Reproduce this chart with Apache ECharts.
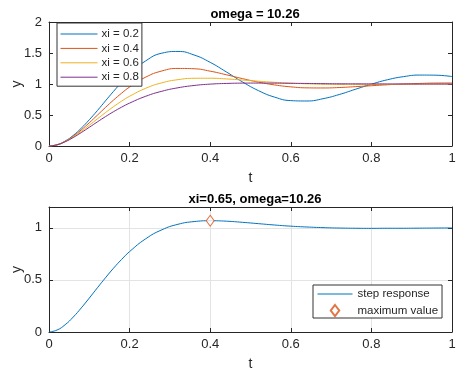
<!DOCTYPE html>
<html><head><meta charset="utf-8">
<script src="https://cdn.jsdelivr.net/npm/echarts/dist/echarts.min.js"></script>
<style>html,body{margin:0;padding:0;background:#fff}#c{width:474px;height:375px}</style>
</head><body><div id="c"></div>
<script>
// time samples (s)
const t = [0,0.02,0.04,0.06,0.08,0.1,0.12,0.14,0.16,0.18,0.2,0.24,0.28,0.32,0.36,0.4,0.44,0.48,0.52,0.56,0.6,0.64,0.68,0.72,0.76,0.8,0.84,0.88,0.92,0.96,1];
// top plot: omega = 10.26
const xi02 = [0,0.020,0.079,0.170,0.287,0.423,0.571,0.727,0.880,1.026,1.161,1.373,1.497,1.525,1.468,1.349,1.195,1.034,0.892,0.788,0.732,0.726,0.763,0.830,0.914,0.997,1.069,1.119,1.144,1.142,1.120];
const xi04 = [0,0.020,0.075,0.157,0.260,0.375,0.497,0.621,0.740,0.851,0.951,1.111,1.210,1.251,1.246,1.207,1.149,1.087,1.030,0.985,0.954,0.938,0.936,0.943,0.957,0.972,0.988,1.000,1.009,1.015,1.016];
const xi06 = [0,0.019,0.071,0.146,0.236,0.335,0.437,0.538,0.634,0.723,0.802,0.931,1.019,1.070,1.092,1.093,1.082,1.064,1.045,1.027,1.013,1.003,0.996,0.992,0.991,0.992,0.993,0.995,0.997,0.998,0.999];
const xi08 = [0,0.019,0.068,0.136,0.216,0.302,0.389,0.473,0.553,0.626,0.692,0.802,0.883,0.939,0.976,0.998,1.009,1.014,1.015,1.014,1.011,1.009,1.006,1.004,1.003,1.002,1.001,1.000,1.000,1.000,1.000];
// bottom plot: xi = 0.65
const xi065 = [0,0.019,0.070,0.143,0.231,0.326,0.424,0.520,0.612,0.696,0.772,0.895,0.981,1.034,1.060,1.068,1.064,1.053,1.040,1.027,1.016,1.008,1.002,0.998,0.996,0.995,0.996,0.996,0.997,0.998,0.999];
const maxT = [0.4];
const maxY = [1.068];
// ticks
const xTicks = [0,0.2,0.4,0.6,0.8,1];
const yTicksTop = [0,0.5,1,1.5,2];
const yTicksBottom = [0,0.5,1];
const yMaxBottom = 1.2;
const topNames = ['xi = 0.2','xi = 0.4','xi = 0.6','xi = 0.8'];
const bottomNames = ['step response','maximum value'];

const colors = ['#0072BD','#D95319','#EDB120','#7E2F8E'];
const axisColor = '#262626';
const font = 'Liberation Sans, Arial, Helvetica, sans-serif';
const pair = ys => t.map((v,i)=>[v, ys[i]]);
const diamondPath = 'path://M5 0L10 6.5L5 13L0 6.5Z';

function xAx(grid, pos, ticks, labels, split, name){
  return {type:'value', gridIndex:grid, position:pos, min:ticks[0], max:ticks[ticks.length-1],
    interval:ticks[1]-ticks[0],
    axisLine:{show:true, onZero:false, lineStyle:{color:axisColor, width:1}},
    axisTick:{show:true, inside:true, length:4, lineStyle:{color:axisColor}},
    axisLabel:{show:labels, color:axisColor, fontSize:13, fontFamily:font, margin:6},
    splitLine:{show:split, lineStyle:{color:'#e3e3e3', width:1}},
    name: name||'', nameLocation:'middle', nameGap:25, nameMoveOverlap:false,
    nameTextStyle:{color:axisColor, fontSize:14, fontFamily:font}};
}
function yAx(grid, pos, ticks, max, labels, split, name){
  return {type:'value', gridIndex:grid, position:pos, min:ticks[0], max:max,
    interval:ticks[1]-ticks[0],
    axisLine:{show:true, onZero:false, lineStyle:{color:axisColor, width:1}},
    axisTick:{show:true, inside:true, length:4, lineStyle:{color:axisColor}},
    axisLabel:{show:labels, color:axisColor, fontSize:13, fontFamily:font, margin:7, showMaxLabel: max===ticks[ticks.length-1]},
    splitLine:{show:split, lineStyle:{color:'#e3e3e3', width:1}},
    name: name||'', nameLocation:'middle', nameGap:25, nameMoveOverlap:false,
    nameTextStyle:{color:axisColor, fontSize:14, fontFamily:font}};
}

const chart = echarts.init(document.getElementById('c'), null, {renderer:'canvas'});
const topSeries = [xi02, xi04, xi06, xi08].map((d,i)=>({
  name: topNames[i], type:'line', xAxisIndex:0, yAxisIndex:0, data: pair(d),
  smooth:true, symbol:'none', lineStyle:{color:colors[i], width:1}, itemStyle:{color:colors[i]}
}));
chart.setOption({
  animation:false,
  backgroundColor:'#fff',
  title:[
    {text:'omega = 10.26', left:250, top:3, textAlign:'center',
     textStyle:{fontSize:13, fontWeight:'bold', color:'#000', fontFamily:font}},
    {text:'xi=0.65, omega=10.26', left:250, top:188, textAlign:'center',
     textStyle:{fontSize:13, fontWeight:'bold', color:'#000', fontFamily:font}}
  ],
  grid:[
    {left:49, right:22, top:22, height:124, outerBoundsMode:'none', containLabel:false},
    {left:49, right:22, top:207, height:125, outerBoundsMode:'none', containLabel:false}
  ],
  xAxis:[
    xAx(0,'bottom',xTicks,true,false,'t'),
    xAx(0,'top',xTicks,false,false),
    xAx(1,'bottom',xTicks,true,true,'t'),
    xAx(1,'top',xTicks,false,false)
  ],
  yAxis:[
    yAx(0,'left',yTicksTop,yTicksTop[yTicksTop.length-1],true,false,'y'),
    yAx(0,'right',yTicksTop,yTicksTop[yTicksTop.length-1],false,false),
    yAx(1,'left',yTicksBottom,yMaxBottom,true,true,'y'),
    yAx(1,'right',yTicksBottom,yMaxBottom,false,false)
  ],
  legend:[
    {data:topNames.map(n=>({name:n, itemStyle:{opacity:0}})), orient:'vertical', left:57, top:23,
     itemWidth:37, itemHeight:10, itemGap:2.4, padding:[5,3,3,3],
     lineStyle:{width:1},
     borderColor:'#333', borderWidth:1, backgroundColor:'#fff', borderRadius:0,
     textStyle:{fontSize:11.5, color:axisColor, fontFamily:font, padding:[0,0,0,-1]}},
    {data:[{name:bottomNames[0], itemStyle:{opacity:0}}, {name:bottomNames[1], icon:diamondPath}],
     orient:'vertical', left:313, top:285, itemWidth:35, itemHeight:11, itemGap:4,
     lineStyle:{width:1},
     padding:[3,4,1,4], borderColor:'#333', borderWidth:1, backgroundColor:'#fff', borderRadius:0,
     textStyle:{fontSize:11.5, color:axisColor, fontFamily:font}}
  ],
  series: topSeries.concat([
    {name:bottomNames[0], type:'line', xAxisIndex:2, yAxisIndex:2, data:pair(xi065),
     smooth:true, symbol:'none', lineStyle:{color:colors[0], width:1}, itemStyle:{color:colors[0]}},
    {name:bottomNames[1], type:'scatter', xAxisIndex:2, yAxisIndex:2,
     data: maxT.map((v,i)=>[v,maxY[i]]), symbol:'diamond', symbolSize:[8,11],
     itemStyle:{color:'#fff', borderColor:colors[1], borderWidth:1}, z:5}
  ])
});
</script></body></html>
